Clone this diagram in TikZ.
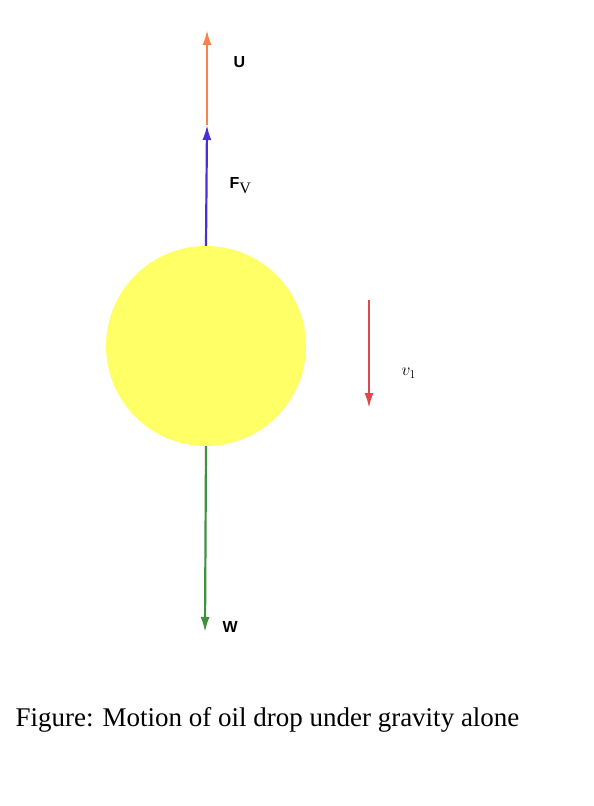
\documentclass[tikz,border=0pt]{standalone}
\usepackage{fontspec}
\setmainfont{Liberation Serif}
\setsansfont{Liberation Sans}
\usetikzlibrary{arrows.meta,positioning}
\definecolor{dropyellow}{HTML}{FFFF66}
\definecolor{upcol}{HTML}{F5834A}
\definecolor{viscol}{HTML}{4B2ED6}
\definecolor{velcol}{HTML}{E0474C}
\definecolor{wcol}{HTML}{3F9140}
\tikzset{
    force/.style={line width=2.2pt, -{Latex[length=15pt,width=9pt]}},
    force label/.style={font=\sffamily\bfseries\fontsize{16}{16}\selectfont, anchor=west},
    oil drop/.style={circle, fill=dropyellow, minimum size=200pt, inner sep=0pt}
}
\begin{document}
\begin{tikzpicture}[x=1pt,y=-1pt]
    \useasboundingbox (0,0) rectangle (594,806);
    \node[oil drop](drop) at (206,346){};
    % forces on the drop
    \coordinate (fvtip) at (207,125);
    \coordinate (utip) at (207,30);
    \coordinate (wtip) at (205,632);
    \draw[force, viscol] (drop.north) -- (fvtip);
    \draw[force, upcol] (fvtip) -- (utip);
    \draw[force, wcol] (drop.south) -- (wtip);
    \node[force label](ulabel) at (230,62){U};
    \node[force label](fvlabel) at (226,186){F\raisebox{-0.6ex}{\rmfamily\mdseries\fontsize{16}{16}\selectfont V}};
    \node[force label](wlabel) at (219,627){W};
    % velocity
    \coordinate (vtail) at (369,300);
    \coordinate (vtip) at (369,408);
    \draw[force, velcol] (vtail) -- (vtip);
    \node[anchor=west, font=\fontsize{18}{18}\selectfont](vlabel) at (398,373){$v_1$};
    % caption
    \node[anchor=west, font=\fontsize{27}{27}\selectfont](caption) at (12,720){Figure: Motion of oil drop under gravity alone};
\end{tikzpicture}
\end{document}
